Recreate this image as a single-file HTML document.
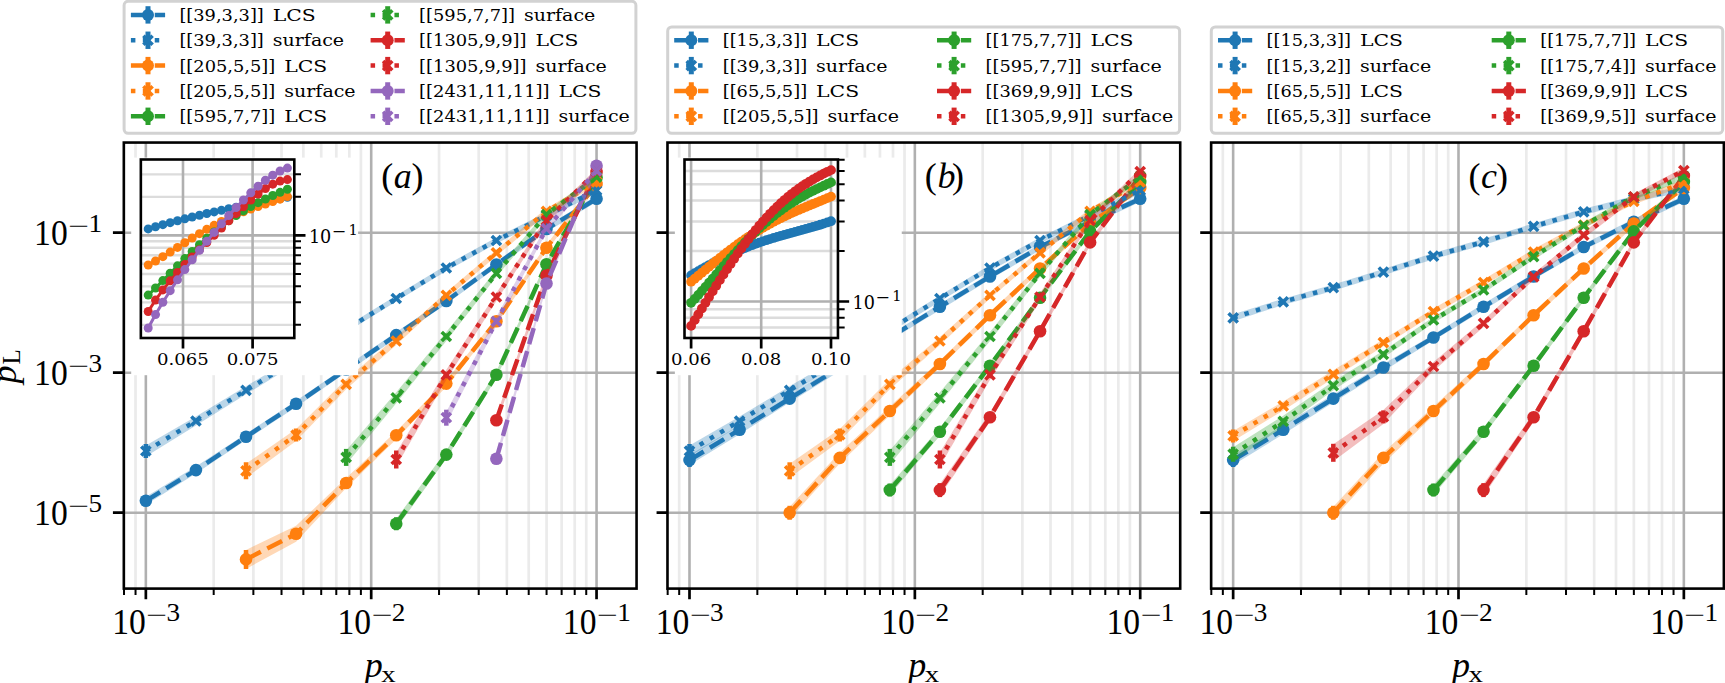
<!DOCTYPE html>
<html lang="en"><head><meta charset="utf-8"><title>Logical error rates: LCS vs surface codes</title>
<style>html,body{margin:0;padding:0;background:#fff}svg{display:block}</style></head>
<body>
<svg width="1725" height="683" viewBox="0 0 1725 683" font-family='"Liberation Serif", "DejaVu Serif", serif' fill="#000">
<defs>
<clipPath id="clip0"><rect x="123.82" y="142.55" width="512.74" height="446.05"/></clipPath>
<clipPath id="iclip0"><rect x="141" y="159.5" width="153.3" height="178.5"/></clipPath>
<clipPath id="clip1"><rect x="667.47" y="142.55" width="512.74" height="446.05"/></clipPath>
<clipPath id="iclip1"><rect x="684.65" y="159.5" width="153.3" height="178.5"/></clipPath>
<clipPath id="clip2"><rect x="1211.12" y="142.55" width="512.74" height="446.05"/></clipPath>
<clipPath id="iclip2"><rect x="1228.3" y="159.5" width="153.3" height="178.5"/></clipPath>
</defs>
<rect width="1725" height="683" fill="#fff"/>
<g clip-path="url(#clip0)">
<path d="M124.01 142.55V588.6M135.54 142.55V588.6M213.69 142.55V588.6M253.37 142.55V588.6M281.52 142.55V588.6M303.36 142.55V588.6M321.21 142.55V588.6M336.29 142.55V588.6M349.36 142.55V588.6M360.89 142.55V588.6M439.04 142.55V588.6M478.72 142.55V588.6M506.87 142.55V588.6M528.71 142.55V588.6M546.56 142.55V588.6M561.64 142.55V588.6M574.71 142.55V588.6M586.24 142.55V588.6" stroke="#ebebeb" stroke-width="2.7" fill="none"/>
<path d="M145.85 142.55V588.6M371.2 142.55V588.6M596.55 142.55V588.6M123.82 232.72H636.56M123.82 372.72H636.56M123.82 512.72H636.56" stroke="#b0b0b0" stroke-width="2.6" fill="none"/>
<polygon points="145.85,496.8 195.93,466.6 246.01,433.7 296.08,400.7 346.16,366.4 396.24,332 446.32,297.9 496.39,261.4 546.47,225.9 596.55,195.7 596.55,201.9 546.47,232.1 496.39,267.6 446.32,304.1 396.24,338.2 346.16,372.6 296.08,406.9 246.01,439.9 195.93,473.6 145.85,504.8" fill="#1f77b4" fill-opacity="0.3"/>
<polyline points="145.85,500.8 195.93,470.1 246.01,436.8 296.08,403.8 346.16,369.5 396.24,335.1 446.32,301 496.39,264.5 546.47,229 596.55,198.8" fill="none" stroke="#1f77b4" stroke-width="4.5" stroke-dasharray="16.65 7.2"/>
<circle cx="145.85" cy="500.8" r="6.3" fill="#1f77b4"/>
<circle cx="195.93" cy="470.1" r="6.3" fill="#1f77b4"/>
<circle cx="246.01" cy="436.8" r="6.3" fill="#1f77b4"/>
<circle cx="296.08" cy="403.8" r="6.3" fill="#1f77b4"/>
<circle cx="346.16" cy="369.5" r="6.3" fill="#1f77b4"/>
<circle cx="396.24" cy="335.1" r="6.3" fill="#1f77b4"/>
<circle cx="446.32" cy="301" r="6.3" fill="#1f77b4"/>
<circle cx="496.39" cy="264.5" r="6.3" fill="#1f77b4"/>
<circle cx="546.47" cy="229" r="6.3" fill="#1f77b4"/>
<circle cx="596.55" cy="198.8" r="6.3" fill="#1f77b4"/>
<polygon points="246.01,549.9 296.08,525.8 346.16,478 396.24,431.3 446.32,380.5 496.39,318.2 546.47,244.6 596.55,180.9 596.55,187.1 546.47,250.8 496.39,324.4 446.32,386.7 396.24,439.3 346.16,488 296.08,541.8 246.01,568.9" fill="#ff7f0e" fill-opacity="0.3"/>
<polyline points="246.01,559.4 296.08,533.8 346.16,483 396.24,435.3 446.32,383.6 496.39,321.3 546.47,247.7 596.55,184" fill="none" stroke="#ff7f0e" stroke-width="4.5" stroke-dasharray="16.65 7.2"/>
<line x1="246.01" y1="549.9" x2="246.01" y2="568.9" stroke="#ff7f0e" stroke-width="4.5"/>
<circle cx="246.01" cy="559.4" r="6.3" fill="#ff7f0e"/>
<circle cx="296.08" cy="533.8" r="6.3" fill="#ff7f0e"/>
<circle cx="346.16" cy="483" r="6.3" fill="#ff7f0e"/>
<circle cx="396.24" cy="435.3" r="6.3" fill="#ff7f0e"/>
<circle cx="446.32" cy="383.6" r="6.3" fill="#ff7f0e"/>
<circle cx="496.39" cy="321.3" r="6.3" fill="#ff7f0e"/>
<circle cx="546.47" cy="247.7" r="6.3" fill="#ff7f0e"/>
<circle cx="596.55" cy="184" r="6.3" fill="#ff7f0e"/>
<polygon points="396.24,518.8 446.32,450.6 496.39,371.3 546.47,261.2 596.55,174.4 596.55,180.6 546.47,267.4 496.39,378.3 446.32,458.6 396.24,528.8" fill="#2ca02c" fill-opacity="0.3"/>
<polyline points="396.24,523.8 446.32,454.6 496.39,374.8 546.47,264.3 596.55,177.5" fill="none" stroke="#2ca02c" stroke-width="4.5" stroke-dasharray="16.65 7.2"/>
<line x1="396.24" y1="517.3" x2="396.24" y2="530.3" stroke="#2ca02c" stroke-width="4.5"/>
<circle cx="396.24" cy="523.8" r="6.3" fill="#2ca02c"/>
<circle cx="446.32" cy="454.6" r="6.3" fill="#2ca02c"/>
<circle cx="496.39" cy="374.8" r="6.3" fill="#2ca02c"/>
<circle cx="546.47" cy="264.3" r="6.3" fill="#2ca02c"/>
<circle cx="596.55" cy="177.5" r="6.3" fill="#2ca02c"/>
<polygon points="496.39,415.7 546.47,272 596.55,168.9 596.55,175.1 546.47,279 496.39,424.7" fill="#d62728" fill-opacity="0.3"/>
<polyline points="496.39,420.2 546.47,275.5 596.55,172" fill="none" stroke="#d62728" stroke-width="4.5" stroke-dasharray="16.65 7.2"/>
<circle cx="496.39" cy="420.2" r="6.3" fill="#d62728"/>
<circle cx="546.47" cy="275.5" r="6.3" fill="#d62728"/>
<circle cx="596.55" cy="172" r="6.3" fill="#d62728"/>
<polygon points="496.39,454.3 546.47,280 596.55,162.7 596.55,168.9 546.47,287 496.39,463.3" fill="#9467bd" fill-opacity="0.3"/>
<polyline points="496.39,458.8 546.47,283.5 596.55,165.8" fill="none" stroke="#9467bd" stroke-width="4.5" stroke-dasharray="16.65 7.2"/>
<circle cx="496.39" cy="458.8" r="6.3" fill="#9467bd"/>
<circle cx="546.47" cy="283.5" r="6.3" fill="#9467bd"/>
<circle cx="596.55" cy="165.8" r="6.3" fill="#9467bd"/>
<polygon points="145.85,445.5 195.93,416.5 246.01,386.3 296.08,356.5 346.16,326.4 396.24,295.4 446.32,264.9 496.39,237.4 546.47,212.4 596.55,187.2 596.55,193.4 546.47,218.6 496.39,243.6 446.32,271.1 396.24,301.6 346.16,332.6 296.08,363.5 246.01,394.3 195.93,425.5 145.85,456.5" fill="#1f77b4" fill-opacity="0.3"/>
<polyline points="145.85,451 195.93,421 246.01,390.3 296.08,360 346.16,329.5 396.24,298.5 446.32,268 496.39,240.5 546.47,215.5 596.55,190.3" fill="none" stroke="#1f77b4" stroke-width="4.5" stroke-dasharray="4.5 7.42"/>
<line x1="145.85" y1="444" x2="145.85" y2="458" stroke="#1f77b4" stroke-width="4.5"/>
<path d="M141.25 446.4l9.2 9.2M141.25 455.6l9.2 -9.2 M191.33 416.4l9.2 9.2M191.33 425.6l9.2 -9.2 M241.41 385.7l9.2 9.2M241.41 394.9l9.2 -9.2 M291.48 355.4l9.2 9.2M291.48 364.6l9.2 -9.2 M341.56 324.9l9.2 9.2M341.56 334.1l9.2 -9.2 M391.64 293.9l9.2 9.2M391.64 303.1l9.2 -9.2 M441.72 263.4l9.2 9.2M441.72 272.6l9.2 -9.2 M491.79 235.9l9.2 9.2M491.79 245.1l9.2 -9.2 M541.87 210.9l9.2 9.2M541.87 220.1l9.2 -9.2 M591.95 185.7l9.2 9.2M591.95 194.9l9.2 -9.2" stroke="#1f77b4" stroke-width="3.6" fill="none"/>
<polygon points="246.01,463.8 296.08,429 346.16,379.3 396.24,337 446.32,292.2 496.39,249.7 546.47,208.2 596.55,178.9 596.55,185.1 546.47,214.4 496.39,255.9 446.32,298.4 396.24,345 346.16,389.3 296.08,441 246.01,477.8" fill="#ff7f0e" fill-opacity="0.3"/>
<polyline points="246.01,470.8 296.08,435 346.16,384.3 396.24,341 446.32,295.3 496.39,252.8 546.47,211.3 596.55,182" fill="none" stroke="#ff7f0e" stroke-width="4.5" stroke-dasharray="4.5 7.42"/>
<line x1="246.01" y1="462.3" x2="246.01" y2="479.3" stroke="#ff7f0e" stroke-width="4.5"/>
<line x1="296.08" y1="428.5" x2="296.08" y2="441.5" stroke="#ff7f0e" stroke-width="4.5"/>
<path d="M241.41 466.2l9.2 9.2M241.41 475.4l9.2 -9.2 M291.48 430.4l9.2 9.2M291.48 439.6l9.2 -9.2 M341.56 379.7l9.2 9.2M341.56 388.9l9.2 -9.2 M391.64 336.4l9.2 9.2M391.64 345.6l9.2 -9.2 M441.72 290.7l9.2 9.2M441.72 299.9l9.2 -9.2 M491.79 248.2l9.2 9.2M491.79 257.4l9.2 -9.2 M541.87 206.7l9.2 9.2M541.87 215.9l9.2 -9.2 M591.95 177.4l9.2 9.2M591.95 186.6l9.2 -9.2" stroke="#ff7f0e" stroke-width="3.6" fill="none"/>
<polygon points="346.16,450.4 396.24,392.3 446.32,332 496.39,269.8 546.47,211.5 596.55,173.9 596.55,180.1 546.47,217.7 496.39,276.8 446.32,341 396.24,403.3 346.16,464.4" fill="#2ca02c" fill-opacity="0.3"/>
<polyline points="346.16,457.4 396.24,397.8 446.32,336.5 496.39,273.3 546.47,214.6 596.55,177" fill="none" stroke="#2ca02c" stroke-width="4.5" stroke-dasharray="4.5 7.42"/>
<line x1="346.16" y1="448.9" x2="346.16" y2="465.9" stroke="#2ca02c" stroke-width="4.5"/>
<path d="M341.56 452.8l9.2 9.2M341.56 462l9.2 -9.2 M391.64 393.2l9.2 9.2M391.64 402.4l9.2 -9.2 M441.72 331.9l9.2 9.2M441.72 341.1l9.2 -9.2 M491.79 268.7l9.2 9.2M491.79 277.9l9.2 -9.2 M541.87 210l9.2 9.2M541.87 219.2l9.2 -9.2 M591.95 172.4l9.2 9.2M591.95 181.6l9.2 -9.2" stroke="#2ca02c" stroke-width="3.6" fill="none"/>
<polygon points="396.24,452.5 446.32,369.8 496.39,293 546.47,217.4 596.55,168.4 596.55,174.6 546.47,223.6 496.39,301 446.32,379.8 396.24,466.5" fill="#d62728" fill-opacity="0.3"/>
<polyline points="396.24,459.5 446.32,374.8 496.39,297 546.47,220.5 596.55,171.5" fill="none" stroke="#d62728" stroke-width="4.5" stroke-dasharray="4.5 7.42"/>
<line x1="396.24" y1="450.5" x2="396.24" y2="468.5" stroke="#d62728" stroke-width="4.5"/>
<path d="M391.64 454.9l9.2 9.2M391.64 464.1l9.2 -9.2 M441.72 370.2l9.2 9.2M441.72 379.4l9.2 -9.2 M491.79 292.4l9.2 9.2M491.79 301.6l9.2 -9.2 M541.87 215.9l9.2 9.2M541.87 225.1l9.2 -9.2 M591.95 166.9l9.2 9.2M591.95 176.1l9.2 -9.2" stroke="#d62728" stroke-width="3.6" fill="none"/>
<polygon points="446.32,411.7 496.39,316.8 546.47,225.1 596.55,167.8 596.55,174 546.47,232.1 496.39,325.8 446.32,423.7" fill="#9467bd" fill-opacity="0.3"/>
<polyline points="446.32,417.7 496.39,321.3 546.47,228.6 596.55,170.9" fill="none" stroke="#9467bd" stroke-width="4.5" stroke-dasharray="4.5 7.42"/>
<line x1="446.32" y1="409.7" x2="446.32" y2="425.7" stroke="#9467bd" stroke-width="4.5"/>
<path d="M441.72 413.1l9.2 9.2M441.72 422.3l9.2 -9.2 M491.79 316.7l9.2 9.2M491.79 325.9l9.2 -9.2 M541.87 224l9.2 9.2M541.87 233.2l9.2 -9.2 M591.95 166.3l9.2 9.2M591.95 175.5l9.2 -9.2" stroke="#9467bd" stroke-width="3.6" fill="none"/>
</g>
<path d="M124.01 588.6v6.3M135.54 588.6v6.3M213.69 588.6v6.3M253.37 588.6v6.3M281.52 588.6v6.3M303.36 588.6v6.3M321.21 588.6v6.3M336.29 588.6v6.3M349.36 588.6v6.3M360.89 588.6v6.3M439.04 588.6v6.3M478.72 588.6v6.3M506.87 588.6v6.3M528.71 588.6v6.3M546.56 588.6v6.3M561.64 588.6v6.3M574.71 588.6v6.3M586.24 588.6v6.3" stroke="#000" stroke-width="2" fill="none"/>
<path d="M145.85 588.6v10.7M371.2 588.6v10.7M596.55 588.6v10.7M123.82 232.72h-10.9M123.82 372.72h-10.9M123.82 512.72h-10.9" stroke="#000" stroke-width="2.7" fill="none"/>
<rect x="131.2" y="157.6" width="226.9" height="217.6" fill="#fff"/>
<g clip-path="url(#iclip0)">
<path d="M140.85 324.87H294.3M140.85 302.33H294.3M140.85 286.34H294.3M140.85 273.93H294.3M140.85 263.8H294.3M140.85 255.23H294.3M140.85 247.8H294.3M140.85 241.26H294.3M140.85 196.87H294.3M140.85 174.33H294.3" stroke="#dcdcdc" stroke-width="2.4" fill="none"/>
<path d="M140.85 235.4H294.3M183 159.5V338M252.6 159.5V338" stroke="#b0b0b0" stroke-width="2.6" fill="none"/>
</g>
<polyline points="148.2,228.9 155.53,226.77 162.85,224.69 170.18,222.67 177.51,220.72 184.83,218.83 192.16,217.01 199.48,215.25 206.81,213.55 214.14,211.9 221.46,210.31 228.79,208.77 236.12,207.27 243.44,205.8 250.77,204.36 258.09,202.93 265.42,201.52 272.75,200.1 280.07,198.66 287.4,197.2" fill="none" stroke="#1f77b4" stroke-width="3" stroke-linejoin="round"/>
<g fill="#1f77b4"><circle cx="148.2" cy="228.9" r="4.5"/><circle cx="155.53" cy="226.77" r="4.5"/><circle cx="162.85" cy="224.69" r="4.5"/><circle cx="170.18" cy="222.67" r="4.5"/><circle cx="177.51" cy="220.72" r="4.5"/><circle cx="184.83" cy="218.83" r="4.5"/><circle cx="192.16" cy="217.01" r="4.5"/><circle cx="199.48" cy="215.25" r="4.5"/><circle cx="206.81" cy="213.55" r="4.5"/><circle cx="214.14" cy="211.9" r="4.5"/><circle cx="221.46" cy="210.31" r="4.5"/><circle cx="228.79" cy="208.77" r="4.5"/><circle cx="236.12" cy="207.27" r="4.5"/><circle cx="243.44" cy="205.8" r="4.5"/><circle cx="250.77" cy="204.36" r="4.5"/><circle cx="258.09" cy="202.93" r="4.5"/><circle cx="265.42" cy="201.52" r="4.5"/><circle cx="272.75" cy="200.1" r="4.5"/><circle cx="280.07" cy="198.66" r="4.5"/><circle cx="287.4" cy="197.2" r="4.5"/></g>
<polyline points="148.2,265 155.53,261 162.85,256.65 170.18,252.09 177.51,247.42 184.83,242.73 192.16,238.12 199.48,233.65 206.81,229.37 214.14,225.32 221.46,221.54 228.79,218.03 236.12,214.8 243.44,211.82 250.77,209.06 258.09,206.48 265.42,204.03 272.75,201.62 280.07,199.18 287.4,196.6" fill="none" stroke="#ff7f0e" stroke-width="3" stroke-linejoin="round"/>
<g fill="#ff7f0e"><circle cx="148.2" cy="265" r="4.5"/><circle cx="155.53" cy="261" r="4.5"/><circle cx="162.85" cy="256.65" r="4.5"/><circle cx="170.18" cy="252.09" r="4.5"/><circle cx="177.51" cy="247.42" r="4.5"/><circle cx="184.83" cy="242.73" r="4.5"/><circle cx="192.16" cy="238.12" r="4.5"/><circle cx="199.48" cy="233.65" r="4.5"/><circle cx="206.81" cy="229.37" r="4.5"/><circle cx="214.14" cy="225.32" r="4.5"/><circle cx="221.46" cy="221.54" r="4.5"/><circle cx="228.79" cy="218.03" r="4.5"/><circle cx="236.12" cy="214.8" r="4.5"/><circle cx="243.44" cy="211.82" r="4.5"/><circle cx="250.77" cy="209.06" r="4.5"/><circle cx="258.09" cy="206.48" r="4.5"/><circle cx="265.42" cy="204.03" r="4.5"/><circle cx="272.75" cy="201.62" r="4.5"/><circle cx="280.07" cy="199.18" r="4.5"/><circle cx="287.4" cy="196.6" r="4.5"/></g>
<polyline points="148.2,295.1 155.53,287.95 162.85,280.62 170.18,273.23 177.51,265.86 184.83,258.6 192.16,251.52 199.48,244.69 206.81,238.16 214.14,231.96 221.46,226.13 228.79,220.68 236.12,215.62 243.44,210.94 250.77,206.62 258.09,202.65 265.42,198.98 272.75,195.55 280.07,192.32 287.4,189.2" fill="none" stroke="#2ca02c" stroke-width="3" stroke-linejoin="round"/>
<g fill="#2ca02c"><circle cx="148.2" cy="295.1" r="4.5"/><circle cx="155.53" cy="287.95" r="4.5"/><circle cx="162.85" cy="280.62" r="4.5"/><circle cx="170.18" cy="273.23" r="4.5"/><circle cx="177.51" cy="265.86" r="4.5"/><circle cx="184.83" cy="258.6" r="4.5"/><circle cx="192.16" cy="251.52" r="4.5"/><circle cx="199.48" cy="244.69" r="4.5"/><circle cx="206.81" cy="238.16" r="4.5"/><circle cx="214.14" cy="231.96" r="4.5"/><circle cx="221.46" cy="226.13" r="4.5"/><circle cx="228.79" cy="220.68" r="4.5"/><circle cx="236.12" cy="215.62" r="4.5"/><circle cx="243.44" cy="210.94" r="4.5"/><circle cx="250.77" cy="206.62" r="4.5"/><circle cx="258.09" cy="202.65" r="4.5"/><circle cx="265.42" cy="198.98" r="4.5"/><circle cx="272.75" cy="195.55" r="4.5"/><circle cx="280.07" cy="192.32" r="4.5"/><circle cx="287.4" cy="189.2" r="4.5"/></g>
<polyline points="148.2,311.5 155.53,300.06 162.85,289.93 170.18,280.81 177.51,272.43 184.83,264.57 192.16,257.04 199.48,249.7 206.81,242.45 214.14,235.22 221.46,227.99 228.79,220.78 236.12,213.65 243.44,206.71 250.77,200.08 258.09,193.97 265.42,188.58 272.75,184.18 280.07,181.07 287.4,179.6" fill="none" stroke="#d62728" stroke-width="3" stroke-linejoin="round"/>
<g fill="#d62728"><circle cx="148.2" cy="311.5" r="4.5"/><circle cx="155.53" cy="300.06" r="4.5"/><circle cx="162.85" cy="289.93" r="4.5"/><circle cx="170.18" cy="280.81" r="4.5"/><circle cx="177.51" cy="272.43" r="4.5"/><circle cx="184.83" cy="264.57" r="4.5"/><circle cx="192.16" cy="257.04" r="4.5"/><circle cx="199.48" cy="249.7" r="4.5"/><circle cx="206.81" cy="242.45" r="4.5"/><circle cx="214.14" cy="235.22" r="4.5"/><circle cx="221.46" cy="227.99" r="4.5"/><circle cx="228.79" cy="220.78" r="4.5"/><circle cx="236.12" cy="213.65" r="4.5"/><circle cx="243.44" cy="206.71" r="4.5"/><circle cx="250.77" cy="200.08" r="4.5"/><circle cx="258.09" cy="193.97" r="4.5"/><circle cx="265.42" cy="188.58" r="4.5"/><circle cx="272.75" cy="184.18" r="4.5"/><circle cx="280.07" cy="181.07" r="4.5"/><circle cx="287.4" cy="179.6" r="4.5"/></g>
<polyline points="148.2,328 155.53,314.59 162.85,302.21 170.18,290.68 177.51,279.84 184.83,269.58 192.16,259.78 199.48,250.35 206.81,241.24 214.14,232.41 221.46,223.85 228.79,215.57 236.12,207.59 243.44,199.98 250.77,192.81 258.09,186.19 265.42,180.25 272.75,175.14 280.07,171.02 287.4,168.1" fill="none" stroke="#9467bd" stroke-width="3" stroke-linejoin="round"/>
<g fill="#9467bd"><circle cx="148.2" cy="328" r="4.5"/><circle cx="155.53" cy="314.59" r="4.5"/><circle cx="162.85" cy="302.21" r="4.5"/><circle cx="170.18" cy="290.68" r="4.5"/><circle cx="177.51" cy="279.84" r="4.5"/><circle cx="184.83" cy="269.58" r="4.5"/><circle cx="192.16" cy="259.78" r="4.5"/><circle cx="199.48" cy="250.35" r="4.5"/><circle cx="206.81" cy="241.24" r="4.5"/><circle cx="214.14" cy="232.41" r="4.5"/><circle cx="221.46" cy="223.85" r="4.5"/><circle cx="228.79" cy="215.57" r="4.5"/><circle cx="236.12" cy="207.59" r="4.5"/><circle cx="243.44" cy="199.98" r="4.5"/><circle cx="250.77" cy="192.81" r="4.5"/><circle cx="258.09" cy="186.19" r="4.5"/><circle cx="265.42" cy="180.25" r="4.5"/><circle cx="272.75" cy="175.14" r="4.5"/><circle cx="280.07" cy="171.02" r="4.5"/><circle cx="287.4" cy="168.1" r="4.5"/></g>
<rect x="140.85" y="159.5" width="153.45" height="178.5" fill="none" stroke="#000" stroke-width="2.6"/>
<path d="M183 338v10.5M252.6 338v10.5M294.3 235.4h11.2" stroke="#000" stroke-width="2.7" fill="none"/>
<path d="M294.3 324.87h6.7M294.3 302.33h6.7M294.3 286.34h6.7M294.3 273.93h6.7M294.3 263.8h6.7M294.3 255.23h6.7M294.3 247.8h6.7M294.3 241.26h6.7M294.3 196.87h6.7M294.3 174.33h6.7" stroke="#000" stroke-width="2" fill="none"/>
<text x="157.1" y="365.2" font-family='"DejaVu Serif", "Liberation Serif", serif' font-size="16.5" textLength="51.8" lengthAdjust="spacingAndGlyphs">0.065</text>
<text x="226.7" y="365.2" font-family='"DejaVu Serif", "Liberation Serif", serif' font-size="16.5" textLength="51.8" lengthAdjust="spacingAndGlyphs">0.075</text>
<text x="308.9" y="243.2" font-family='"DejaVu Serif", "Liberation Serif", serif' font-size="17.6" textLength="22.4" lengthAdjust="spacingAndGlyphs">10</text>
<text x="332.1" y="236.3" font-family='"DejaVu Serif", "Liberation Serif", serif' font-size="14" textLength="14.6" lengthAdjust="spacingAndGlyphs">−</text>
<text x="348.5" y="235.2" font-family='"DejaVu Serif", "Liberation Serif", serif' font-size="14.5" textLength="9.3" lengthAdjust="spacingAndGlyphs">1</text>
<rect x="123.82" y="142.55" width="512.74" height="446.05" fill="none" stroke="#000" stroke-width="2.6"/>
<text x="112.15" y="634.2" font-size="35" textLength="33.6" lengthAdjust="spacingAndGlyphs">10</text>
<text x="146.35" y="622.9" font-size="24" textLength="21" lengthAdjust="spacingAndGlyphs">−</text>
<text x="166.45" y="621.2" font-size="24.5" textLength="13.6" lengthAdjust="spacingAndGlyphs">3</text>
<text x="337.5" y="634.2" font-size="35" textLength="33.6" lengthAdjust="spacingAndGlyphs">10</text>
<text x="371.7" y="622.9" font-size="24" textLength="21" lengthAdjust="spacingAndGlyphs">−</text>
<text x="391.8" y="621.2" font-size="24.5" textLength="13.6" lengthAdjust="spacingAndGlyphs">2</text>
<text x="562.85" y="634.2" font-size="35" textLength="33.6" lengthAdjust="spacingAndGlyphs">10</text>
<text x="597.05" y="622.9" font-size="24" textLength="21" lengthAdjust="spacingAndGlyphs">−</text>
<text x="617.15" y="621.2" font-size="24.5" textLength="13.6" lengthAdjust="spacingAndGlyphs">1</text>
<text x="34.1" y="245.32" font-size="35" textLength="33.6" lengthAdjust="spacingAndGlyphs">10</text>
<text x="68.3" y="234.02" font-size="24" textLength="21" lengthAdjust="spacingAndGlyphs">−</text>
<text x="88.4" y="232.32" font-size="24.5" textLength="13.6" lengthAdjust="spacingAndGlyphs">1</text>
<text x="34.1" y="385.32" font-size="35" textLength="33.6" lengthAdjust="spacingAndGlyphs">10</text>
<text x="68.3" y="374.02" font-size="24" textLength="21" lengthAdjust="spacingAndGlyphs">−</text>
<text x="88.4" y="372.32" font-size="24.5" textLength="13.6" lengthAdjust="spacingAndGlyphs">3</text>
<text x="34.1" y="525.32" font-size="35" textLength="33.6" lengthAdjust="spacingAndGlyphs">10</text>
<text x="68.3" y="514.02" font-size="24" textLength="21" lengthAdjust="spacingAndGlyphs">−</text>
<text x="88.4" y="512.32" font-size="24.5" textLength="13.6" lengthAdjust="spacingAndGlyphs">5</text>
<text x="364.69" y="677" font-size="36" font-style="italic">p</text>
<text x="381.19" y="681.8" font-size="24" textLength="14.4" lengthAdjust="spacingAndGlyphs">x</text>
<text x="381.2" y="187.8" font-size="36">(</text>
<text x="393.8" y="187.8" font-size="36" font-style="italic">a</text>
<text x="411.6" y="187.8" font-size="36">)</text>
<g clip-path="url(#clip1)">
<path d="M667.66 142.55V588.6M679.19 142.55V588.6M757.34 142.55V588.6M797.02 142.55V588.6M825.17 142.55V588.6M847.01 142.55V588.6M864.86 142.55V588.6M879.94 142.55V588.6M893.01 142.55V588.6M904.54 142.55V588.6M982.69 142.55V588.6M1022.37 142.55V588.6M1050.52 142.55V588.6M1072.36 142.55V588.6M1090.21 142.55V588.6M1105.29 142.55V588.6M1118.36 142.55V588.6M1129.89 142.55V588.6" stroke="#ebebeb" stroke-width="2.7" fill="none"/>
<path d="M689.5 142.55V588.6M914.85 142.55V588.6M1140.2 142.55V588.6M667.47 232.72H1180.21M667.47 372.72H1180.21M667.47 512.72H1180.21" stroke="#b0b0b0" stroke-width="2.6" fill="none"/>
<polygon points="689.5,455.1 739.58,425.2 789.66,394.6 839.73,364 889.81,334.4 939.89,303.7 989.97,273.4 1040.04,243.9 1090.12,218.7 1140.2,195.7 1140.2,201.9 1090.12,224.9 1040.04,250.1 989.97,279.6 939.89,309.9 889.81,340.6 839.73,371 789.66,402.6 739.58,434.2 689.5,465.1" fill="#1f77b4" fill-opacity="0.3"/>
<polyline points="689.5,460.1 739.58,429.7 789.66,398.6 839.73,367.5 889.81,337.5 939.89,306.8 989.97,276.5 1040.04,247 1090.12,221.8 1140.2,198.8" fill="none" stroke="#1f77b4" stroke-width="4.5" stroke-dasharray="16.65 7.2"/>
<line x1="689.5" y1="453.1" x2="689.5" y2="467.1" stroke="#1f77b4" stroke-width="4.5"/>
<circle cx="689.5" cy="460.1" r="6.3" fill="#1f77b4"/>
<circle cx="739.58" cy="429.7" r="6.3" fill="#1f77b4"/>
<circle cx="789.66" cy="398.6" r="6.3" fill="#1f77b4"/>
<circle cx="839.73" cy="367.5" r="6.3" fill="#1f77b4"/>
<circle cx="889.81" cy="337.5" r="6.3" fill="#1f77b4"/>
<circle cx="939.89" cy="306.8" r="6.3" fill="#1f77b4"/>
<circle cx="989.97" cy="276.5" r="6.3" fill="#1f77b4"/>
<circle cx="1040.04" cy="247" r="6.3" fill="#1f77b4"/>
<circle cx="1090.12" cy="221.8" r="6.3" fill="#1f77b4"/>
<circle cx="1140.2" cy="198.8" r="6.3" fill="#1f77b4"/>
<polygon points="789.66,506.8 839.73,452.4 889.81,406.5 939.89,360.5 989.97,312.1 1040.04,265.4 1090.12,220.4 1140.2,184.9 1140.2,191.1 1090.12,226.6 1040.04,271.6 989.97,318.3 939.89,367.5 889.81,415.5 839.73,463.4 789.66,518.8" fill="#ff7f0e" fill-opacity="0.3"/>
<polyline points="789.66,512.8 839.73,457.9 889.81,411 939.89,364 989.97,315.2 1040.04,268.5 1090.12,223.5 1140.2,188" fill="none" stroke="#ff7f0e" stroke-width="4.5" stroke-dasharray="16.65 7.2"/>
<line x1="789.66" y1="505.8" x2="789.66" y2="519.8" stroke="#ff7f0e" stroke-width="4.5"/>
<circle cx="789.66" cy="512.8" r="6.3" fill="#ff7f0e"/>
<circle cx="839.73" cy="457.9" r="6.3" fill="#ff7f0e"/>
<circle cx="889.81" cy="411" r="6.3" fill="#ff7f0e"/>
<circle cx="939.89" cy="364" r="6.3" fill="#ff7f0e"/>
<circle cx="989.97" cy="315.2" r="6.3" fill="#ff7f0e"/>
<circle cx="1040.04" cy="268.5" r="6.3" fill="#ff7f0e"/>
<circle cx="1090.12" cy="223.5" r="6.3" fill="#ff7f0e"/>
<circle cx="1140.2" cy="188" r="6.3" fill="#ff7f0e"/>
<polygon points="889.81,485 939.89,427.8 989.97,362.2 1040.04,294.7 1090.12,228.3 1140.2,178.9 1140.2,185.1 1090.12,234.5 1040.04,300.9 989.97,369.2 939.89,435.8 889.81,495" fill="#2ca02c" fill-opacity="0.3"/>
<polyline points="889.81,490 939.89,431.8 989.97,365.7 1040.04,297.8 1090.12,231.4 1140.2,182" fill="none" stroke="#2ca02c" stroke-width="4.5" stroke-dasharray="16.65 7.2"/>
<line x1="889.81" y1="483.5" x2="889.81" y2="496.5" stroke="#2ca02c" stroke-width="4.5"/>
<circle cx="889.81" cy="490" r="6.3" fill="#2ca02c"/>
<circle cx="939.89" cy="431.8" r="6.3" fill="#2ca02c"/>
<circle cx="989.97" cy="365.7" r="6.3" fill="#2ca02c"/>
<circle cx="1040.04" cy="297.8" r="6.3" fill="#2ca02c"/>
<circle cx="1090.12" cy="231.4" r="6.3" fill="#2ca02c"/>
<circle cx="1140.2" cy="182" r="6.3" fill="#2ca02c"/>
<polygon points="939.89,484.1 989.97,412.8 1040.04,327.7 1090.12,239.3 1140.2,172.9 1140.2,179.1 1090.12,245.5 1040.04,334.7 989.97,421.8 939.89,496.1" fill="#d62728" fill-opacity="0.3"/>
<polyline points="939.89,490.1 989.97,417.3 1040.04,331.2 1090.12,242.4 1140.2,176" fill="none" stroke="#d62728" stroke-width="4.5" stroke-dasharray="16.65 7.2"/>
<line x1="939.89" y1="483.1" x2="939.89" y2="497.1" stroke="#d62728" stroke-width="4.5"/>
<circle cx="939.89" cy="490.1" r="6.3" fill="#d62728"/>
<circle cx="989.97" cy="417.3" r="6.3" fill="#d62728"/>
<circle cx="1040.04" cy="331.2" r="6.3" fill="#d62728"/>
<circle cx="1090.12" cy="242.4" r="6.3" fill="#d62728"/>
<circle cx="1140.2" cy="176" r="6.3" fill="#d62728"/>
<polygon points="689.5,445.5 739.58,416.5 789.66,386.3 839.73,356.5 889.81,326.4 939.89,295.4 989.97,264.9 1040.04,237.4 1090.12,212.4 1140.2,187.2 1140.2,193.4 1090.12,218.6 1040.04,243.6 989.97,271.1 939.89,301.6 889.81,332.6 839.73,363.5 789.66,394.3 739.58,425.5 689.5,456.5" fill="#1f77b4" fill-opacity="0.3"/>
<polyline points="689.5,451 739.58,421 789.66,390.3 839.73,360 889.81,329.5 939.89,298.5 989.97,268 1040.04,240.5 1090.12,215.5 1140.2,190.3" fill="none" stroke="#1f77b4" stroke-width="4.5" stroke-dasharray="4.5 7.42"/>
<line x1="689.5" y1="444" x2="689.5" y2="458" stroke="#1f77b4" stroke-width="4.5"/>
<path d="M684.9 446.4l9.2 9.2M684.9 455.6l9.2 -9.2 M734.98 416.4l9.2 9.2M734.98 425.6l9.2 -9.2 M785.06 385.7l9.2 9.2M785.06 394.9l9.2 -9.2 M835.13 355.4l9.2 9.2M835.13 364.6l9.2 -9.2 M885.21 324.9l9.2 9.2M885.21 334.1l9.2 -9.2 M935.29 293.9l9.2 9.2M935.29 303.1l9.2 -9.2 M985.37 263.4l9.2 9.2M985.37 272.6l9.2 -9.2 M1035.44 235.9l9.2 9.2M1035.44 245.1l9.2 -9.2 M1085.52 210.9l9.2 9.2M1085.52 220.1l9.2 -9.2 M1135.6 185.7l9.2 9.2M1135.6 194.9l9.2 -9.2" stroke="#1f77b4" stroke-width="3.6" fill="none"/>
<polygon points="789.66,463.8 839.73,429 889.81,379.3 939.89,337 989.97,292.2 1040.04,249.7 1090.12,208.2 1140.2,178.9 1140.2,185.1 1090.12,214.4 1040.04,255.9 989.97,298.4 939.89,345 889.81,389.3 839.73,441 789.66,477.8" fill="#ff7f0e" fill-opacity="0.3"/>
<polyline points="789.66,470.8 839.73,435 889.81,384.3 939.89,341 989.97,295.3 1040.04,252.8 1090.12,211.3 1140.2,182" fill="none" stroke="#ff7f0e" stroke-width="4.5" stroke-dasharray="4.5 7.42"/>
<line x1="789.66" y1="462.3" x2="789.66" y2="479.3" stroke="#ff7f0e" stroke-width="4.5"/>
<line x1="839.73" y1="428.5" x2="839.73" y2="441.5" stroke="#ff7f0e" stroke-width="4.5"/>
<path d="M785.06 466.2l9.2 9.2M785.06 475.4l9.2 -9.2 M835.13 430.4l9.2 9.2M835.13 439.6l9.2 -9.2 M885.21 379.7l9.2 9.2M885.21 388.9l9.2 -9.2 M935.29 336.4l9.2 9.2M935.29 345.6l9.2 -9.2 M985.37 290.7l9.2 9.2M985.37 299.9l9.2 -9.2 M1035.44 248.2l9.2 9.2M1035.44 257.4l9.2 -9.2 M1085.52 206.7l9.2 9.2M1085.52 215.9l9.2 -9.2 M1135.6 177.4l9.2 9.2M1135.6 186.6l9.2 -9.2" stroke="#ff7f0e" stroke-width="3.6" fill="none"/>
<polygon points="889.81,450.4 939.89,392.3 989.97,332 1040.04,269.8 1090.12,211.5 1140.2,173.9 1140.2,180.1 1090.12,217.7 1040.04,276.8 989.97,341 939.89,403.3 889.81,464.4" fill="#2ca02c" fill-opacity="0.3"/>
<polyline points="889.81,457.4 939.89,397.8 989.97,336.5 1040.04,273.3 1090.12,214.6 1140.2,177" fill="none" stroke="#2ca02c" stroke-width="4.5" stroke-dasharray="4.5 7.42"/>
<line x1="889.81" y1="448.9" x2="889.81" y2="465.9" stroke="#2ca02c" stroke-width="4.5"/>
<path d="M885.21 452.8l9.2 9.2M885.21 462l9.2 -9.2 M935.29 393.2l9.2 9.2M935.29 402.4l9.2 -9.2 M985.37 331.9l9.2 9.2M985.37 341.1l9.2 -9.2 M1035.44 268.7l9.2 9.2M1035.44 277.9l9.2 -9.2 M1085.52 210l9.2 9.2M1085.52 219.2l9.2 -9.2 M1135.6 172.4l9.2 9.2M1135.6 181.6l9.2 -9.2" stroke="#2ca02c" stroke-width="3.6" fill="none"/>
<polygon points="939.89,452.5 989.97,369.8 1040.04,293 1090.12,217.4 1140.2,168.4 1140.2,174.6 1090.12,223.6 1040.04,301 989.97,379.8 939.89,466.5" fill="#d62728" fill-opacity="0.3"/>
<polyline points="939.89,459.5 989.97,374.8 1040.04,297 1090.12,220.5 1140.2,171.5" fill="none" stroke="#d62728" stroke-width="4.5" stroke-dasharray="4.5 7.42"/>
<line x1="939.89" y1="450.5" x2="939.89" y2="468.5" stroke="#d62728" stroke-width="4.5"/>
<path d="M935.29 454.9l9.2 9.2M935.29 464.1l9.2 -9.2 M985.37 370.2l9.2 9.2M985.37 379.4l9.2 -9.2 M1035.44 292.4l9.2 9.2M1035.44 301.6l9.2 -9.2 M1085.52 215.9l9.2 9.2M1085.52 225.1l9.2 -9.2 M1135.6 166.9l9.2 9.2M1135.6 176.1l9.2 -9.2" stroke="#d62728" stroke-width="3.6" fill="none"/>
</g>
<path d="M667.66 588.6v6.3M679.19 588.6v6.3M757.34 588.6v6.3M797.02 588.6v6.3M825.17 588.6v6.3M847.01 588.6v6.3M864.86 588.6v6.3M879.94 588.6v6.3M893.01 588.6v6.3M904.54 588.6v6.3M982.69 588.6v6.3M1022.37 588.6v6.3M1050.52 588.6v6.3M1072.36 588.6v6.3M1090.21 588.6v6.3M1105.29 588.6v6.3M1118.36 588.6v6.3M1129.89 588.6v6.3" stroke="#000" stroke-width="2" fill="none"/>
<path d="M689.5 588.6v10.7M914.85 588.6v10.7M1140.2 588.6v10.7M667.47 232.72h-10.9M667.47 372.72h-10.9M667.47 512.72h-10.9" stroke="#000" stroke-width="2.7" fill="none"/>
<rect x="674.85" y="157.6" width="226.9" height="217.6" fill="#fff"/>
<g clip-path="url(#iclip1)">
<path d="M684.5 327.49H837.95M684.5 317.76H837.95M684.5 309.18H837.95M684.5 250.99H837.95M684.5 221.44H837.95M684.5 200.47H837.95M684.5 184.21H837.95M684.5 170.93H837.95M684.5 159.69H837.95" stroke="#dcdcdc" stroke-width="2.4" fill="none"/>
<path d="M684.5 301.5H837.95M691.1 159.5V338M761.2 159.5V338M831 159.5V338" stroke="#b0b0b0" stroke-width="2.6" fill="none"/>
</g>
<polyline points="691.1,275.4 694.69,273.26 698.27,271.15 701.86,269.08 705.45,267.05 709.04,265.07 712.62,263.13 716.21,261.24 719.8,259.4 723.38,257.61 726.97,255.87 730.56,254.19 734.15,252.56 737.73,250.98 741.32,249.46 744.91,247.99 748.49,246.57 752.08,245.21 755.67,243.89 759.26,242.62 762.84,241.39 766.43,240.21 770.02,239.07 773.61,237.96 777.19,236.88 780.78,235.83 784.37,234.81 787.95,233.81 791.54,232.82 795.13,231.84 798.72,230.87 802.3,229.89 805.89,228.91 809.48,227.91 813.06,226.89 816.65,225.84 820.24,224.76 823.83,223.63 827.41,222.44 831,221.2" fill="none" stroke="#1f77b4" stroke-width="3" stroke-linejoin="round"/>
<g fill="#1f77b4"><circle cx="691.1" cy="275.4" r="4.9"/><circle cx="694.69" cy="273.26" r="4.9"/><circle cx="698.27" cy="271.15" r="4.9"/><circle cx="701.86" cy="269.08" r="4.9"/><circle cx="705.45" cy="267.05" r="4.9"/><circle cx="709.04" cy="265.07" r="4.9"/><circle cx="712.62" cy="263.13" r="4.9"/><circle cx="716.21" cy="261.24" r="4.9"/><circle cx="719.8" cy="259.4" r="4.9"/><circle cx="723.38" cy="257.61" r="4.9"/><circle cx="726.97" cy="255.87" r="4.9"/><circle cx="730.56" cy="254.19" r="4.9"/><circle cx="734.15" cy="252.56" r="4.9"/><circle cx="737.73" cy="250.98" r="4.9"/><circle cx="741.32" cy="249.46" r="4.9"/><circle cx="744.91" cy="247.99" r="4.9"/><circle cx="748.49" cy="246.57" r="4.9"/><circle cx="752.08" cy="245.21" r="4.9"/><circle cx="755.67" cy="243.89" r="4.9"/><circle cx="759.26" cy="242.62" r="4.9"/><circle cx="762.84" cy="241.39" r="4.9"/><circle cx="766.43" cy="240.21" r="4.9"/><circle cx="770.02" cy="239.07" r="4.9"/><circle cx="773.61" cy="237.96" r="4.9"/><circle cx="777.19" cy="236.88" r="4.9"/><circle cx="780.78" cy="235.83" r="4.9"/><circle cx="784.37" cy="234.81" r="4.9"/><circle cx="787.95" cy="233.81" r="4.9"/><circle cx="791.54" cy="232.82" r="4.9"/><circle cx="795.13" cy="231.84" r="4.9"/><circle cx="798.72" cy="230.87" r="4.9"/><circle cx="802.3" cy="229.89" r="4.9"/><circle cx="805.89" cy="228.91" r="4.9"/><circle cx="809.48" cy="227.91" r="4.9"/><circle cx="813.06" cy="226.89" r="4.9"/><circle cx="816.65" cy="225.84" r="4.9"/><circle cx="820.24" cy="224.76" r="4.9"/><circle cx="823.83" cy="223.63" r="4.9"/><circle cx="827.41" cy="222.44" r="4.9"/><circle cx="831" cy="221.2" r="4.9"/></g>
<polyline points="691.1,281.7 694.69,278.69 698.27,275.68 701.86,272.67 705.45,269.67 709.04,266.69 712.62,263.74 716.21,260.82 719.8,257.94 723.38,255.1 726.97,252.31 730.56,249.57 734.15,246.89 737.73,244.27 741.32,241.72 744.91,239.23 748.49,236.81 752.08,234.46 755.67,232.19 759.26,229.98 762.84,227.84 766.43,225.77 770.02,223.77 773.61,221.84 777.19,219.97 780.78,218.17 784.37,216.42 787.95,214.73 791.54,213.09 795.13,211.49 798.72,209.94 802.3,208.42 805.89,206.92 809.48,205.45 813.06,203.99 816.65,202.54 820.24,201.08 823.83,199.61 827.41,198.12 831,196.6" fill="none" stroke="#ff7f0e" stroke-width="3" stroke-linejoin="round"/>
<g fill="#ff7f0e"><circle cx="691.1" cy="281.7" r="4.9"/><circle cx="694.69" cy="278.69" r="4.9"/><circle cx="698.27" cy="275.68" r="4.9"/><circle cx="701.86" cy="272.67" r="4.9"/><circle cx="705.45" cy="269.67" r="4.9"/><circle cx="709.04" cy="266.69" r="4.9"/><circle cx="712.62" cy="263.74" r="4.9"/><circle cx="716.21" cy="260.82" r="4.9"/><circle cx="719.8" cy="257.94" r="4.9"/><circle cx="723.38" cy="255.1" r="4.9"/><circle cx="726.97" cy="252.31" r="4.9"/><circle cx="730.56" cy="249.57" r="4.9"/><circle cx="734.15" cy="246.89" r="4.9"/><circle cx="737.73" cy="244.27" r="4.9"/><circle cx="741.32" cy="241.72" r="4.9"/><circle cx="744.91" cy="239.23" r="4.9"/><circle cx="748.49" cy="236.81" r="4.9"/><circle cx="752.08" cy="234.46" r="4.9"/><circle cx="755.67" cy="232.19" r="4.9"/><circle cx="759.26" cy="229.98" r="4.9"/><circle cx="762.84" cy="227.84" r="4.9"/><circle cx="766.43" cy="225.77" r="4.9"/><circle cx="770.02" cy="223.77" r="4.9"/><circle cx="773.61" cy="221.84" r="4.9"/><circle cx="777.19" cy="219.97" r="4.9"/><circle cx="780.78" cy="218.17" r="4.9"/><circle cx="784.37" cy="216.42" r="4.9"/><circle cx="787.95" cy="214.73" r="4.9"/><circle cx="791.54" cy="213.09" r="4.9"/><circle cx="795.13" cy="211.49" r="4.9"/><circle cx="798.72" cy="209.94" r="4.9"/><circle cx="802.3" cy="208.42" r="4.9"/><circle cx="805.89" cy="206.92" r="4.9"/><circle cx="809.48" cy="205.45" r="4.9"/><circle cx="813.06" cy="203.99" r="4.9"/><circle cx="816.65" cy="202.54" r="4.9"/><circle cx="820.24" cy="201.08" r="4.9"/><circle cx="823.83" cy="199.61" r="4.9"/><circle cx="827.41" cy="198.12" r="4.9"/><circle cx="831" cy="196.6" r="4.9"/></g>
<polyline points="691.1,302.8 694.69,298.93 698.27,294.98 701.86,290.95 705.45,286.86 709.04,282.74 712.62,278.59 716.21,274.44 719.8,270.3 723.38,266.17 726.97,262.08 730.56,258.03 734.15,254.04 737.73,250.11 741.32,246.26 744.91,242.49 748.49,238.8 752.08,235.22 755.67,231.73 759.26,228.35 762.84,225.08 766.43,221.92 770.02,218.87 773.61,215.94 777.19,213.13 780.78,210.43 784.37,207.85 787.95,205.37 791.54,203.01 795.13,200.75 798.72,198.59 802.3,196.52 805.89,194.54 809.48,192.64 813.06,190.82 816.65,189.05 820.24,187.34 823.83,185.67 827.41,184.02 831,182.4" fill="none" stroke="#2ca02c" stroke-width="3" stroke-linejoin="round"/>
<g fill="#2ca02c"><circle cx="691.1" cy="302.8" r="4.9"/><circle cx="694.69" cy="298.93" r="4.9"/><circle cx="698.27" cy="294.98" r="4.9"/><circle cx="701.86" cy="290.95" r="4.9"/><circle cx="705.45" cy="286.86" r="4.9"/><circle cx="709.04" cy="282.74" r="4.9"/><circle cx="712.62" cy="278.59" r="4.9"/><circle cx="716.21" cy="274.44" r="4.9"/><circle cx="719.8" cy="270.3" r="4.9"/><circle cx="723.38" cy="266.17" r="4.9"/><circle cx="726.97" cy="262.08" r="4.9"/><circle cx="730.56" cy="258.03" r="4.9"/><circle cx="734.15" cy="254.04" r="4.9"/><circle cx="737.73" cy="250.11" r="4.9"/><circle cx="741.32" cy="246.26" r="4.9"/><circle cx="744.91" cy="242.49" r="4.9"/><circle cx="748.49" cy="238.8" r="4.9"/><circle cx="752.08" cy="235.22" r="4.9"/><circle cx="755.67" cy="231.73" r="4.9"/><circle cx="759.26" cy="228.35" r="4.9"/><circle cx="762.84" cy="225.08" r="4.9"/><circle cx="766.43" cy="221.92" r="4.9"/><circle cx="770.02" cy="218.87" r="4.9"/><circle cx="773.61" cy="215.94" r="4.9"/><circle cx="777.19" cy="213.13" r="4.9"/><circle cx="780.78" cy="210.43" r="4.9"/><circle cx="784.37" cy="207.85" r="4.9"/><circle cx="787.95" cy="205.37" r="4.9"/><circle cx="791.54" cy="203.01" r="4.9"/><circle cx="795.13" cy="200.75" r="4.9"/><circle cx="798.72" cy="198.59" r="4.9"/><circle cx="802.3" cy="196.52" r="4.9"/><circle cx="805.89" cy="194.54" r="4.9"/><circle cx="809.48" cy="192.64" r="4.9"/><circle cx="813.06" cy="190.82" r="4.9"/><circle cx="816.65" cy="189.05" r="4.9"/><circle cx="820.24" cy="187.34" r="4.9"/><circle cx="823.83" cy="185.67" r="4.9"/><circle cx="827.41" cy="184.02" r="4.9"/><circle cx="831" cy="182.4" r="4.9"/></g>
<polyline points="691.1,325.88 694.69,320.13 698.27,314.35 701.86,308.58 705.45,302.81 709.04,297.08 712.62,291.38 716.21,285.73 719.8,280.16 723.38,274.65 726.97,269.24 730.56,263.92 734.15,258.71 737.73,253.61 741.32,248.63 744.91,243.78 748.49,239.06 752.08,234.48 755.67,230.05 759.26,225.76 762.84,221.63 766.43,217.64 770.02,213.81 773.61,210.14 777.19,206.62 780.78,203.25 784.37,200.04 787.95,196.98 791.54,194.06 795.13,191.29 798.72,188.66 802.3,186.16 805.89,183.79 809.48,181.53 813.06,179.4 816.65,177.36 820.24,175.43 823.83,173.58 827.41,171.8 831,170.09" fill="none" stroke="#d62728" stroke-width="3" stroke-linejoin="round"/>
<g fill="#d62728"><circle cx="691.1" cy="325.88" r="4.9"/><circle cx="694.69" cy="320.13" r="4.9"/><circle cx="698.27" cy="314.35" r="4.9"/><circle cx="701.86" cy="308.58" r="4.9"/><circle cx="705.45" cy="302.81" r="4.9"/><circle cx="709.04" cy="297.08" r="4.9"/><circle cx="712.62" cy="291.38" r="4.9"/><circle cx="716.21" cy="285.73" r="4.9"/><circle cx="719.8" cy="280.16" r="4.9"/><circle cx="723.38" cy="274.65" r="4.9"/><circle cx="726.97" cy="269.24" r="4.9"/><circle cx="730.56" cy="263.92" r="4.9"/><circle cx="734.15" cy="258.71" r="4.9"/><circle cx="737.73" cy="253.61" r="4.9"/><circle cx="741.32" cy="248.63" r="4.9"/><circle cx="744.91" cy="243.78" r="4.9"/><circle cx="748.49" cy="239.06" r="4.9"/><circle cx="752.08" cy="234.48" r="4.9"/><circle cx="755.67" cy="230.05" r="4.9"/><circle cx="759.26" cy="225.76" r="4.9"/><circle cx="762.84" cy="221.63" r="4.9"/><circle cx="766.43" cy="217.64" r="4.9"/><circle cx="770.02" cy="213.81" r="4.9"/><circle cx="773.61" cy="210.14" r="4.9"/><circle cx="777.19" cy="206.62" r="4.9"/><circle cx="780.78" cy="203.25" r="4.9"/><circle cx="784.37" cy="200.04" r="4.9"/><circle cx="787.95" cy="196.98" r="4.9"/><circle cx="791.54" cy="194.06" r="4.9"/><circle cx="795.13" cy="191.29" r="4.9"/><circle cx="798.72" cy="188.66" r="4.9"/><circle cx="802.3" cy="186.16" r="4.9"/><circle cx="805.89" cy="183.79" r="4.9"/><circle cx="809.48" cy="181.53" r="4.9"/><circle cx="813.06" cy="179.4" r="4.9"/><circle cx="816.65" cy="177.36" r="4.9"/><circle cx="820.24" cy="175.43" r="4.9"/><circle cx="823.83" cy="173.58" r="4.9"/><circle cx="827.41" cy="171.8" r="4.9"/><circle cx="831" cy="170.09" r="4.9"/></g>
<rect x="684.5" y="159.5" width="153.45" height="178.5" fill="none" stroke="#000" stroke-width="2.6"/>
<path d="M691.1 338v10.5M761.2 338v10.5M831 338v10.5M837.95 301.5h11.2" stroke="#000" stroke-width="2.7" fill="none"/>
<path d="M837.95 327.49h6.7M837.95 317.76h6.7M837.95 309.18h6.7M837.95 250.99h6.7M837.95 221.44h6.7M837.95 200.47h6.7M837.95 184.21h6.7M837.95 170.93h6.7M837.95 159.69h6.7" stroke="#000" stroke-width="2" fill="none"/>
<text x="671" y="365.2" font-family='"DejaVu Serif", "Liberation Serif", serif' font-size="16.5" textLength="40.2" lengthAdjust="spacingAndGlyphs">0.06</text>
<text x="741.1" y="365.2" font-family='"DejaVu Serif", "Liberation Serif", serif' font-size="16.5" textLength="40.2" lengthAdjust="spacingAndGlyphs">0.08</text>
<text x="810.9" y="365.2" font-family='"DejaVu Serif", "Liberation Serif", serif' font-size="16.5" textLength="40.2" lengthAdjust="spacingAndGlyphs">0.10</text>
<text x="852.55" y="309.3" font-family='"DejaVu Serif", "Liberation Serif", serif' font-size="17.6" textLength="22.4" lengthAdjust="spacingAndGlyphs">10</text>
<text x="875.75" y="302.4" font-family='"DejaVu Serif", "Liberation Serif", serif' font-size="14" textLength="14.6" lengthAdjust="spacingAndGlyphs">−</text>
<text x="892.15" y="301.3" font-family='"DejaVu Serif", "Liberation Serif", serif' font-size="14.5" textLength="9.3" lengthAdjust="spacingAndGlyphs">1</text>
<rect x="667.47" y="142.55" width="512.74" height="446.05" fill="none" stroke="#000" stroke-width="2.6"/>
<text x="655.8" y="634.2" font-size="35" textLength="33.6" lengthAdjust="spacingAndGlyphs">10</text>
<text x="690" y="622.9" font-size="24" textLength="21" lengthAdjust="spacingAndGlyphs">−</text>
<text x="710.1" y="621.2" font-size="24.5" textLength="13.6" lengthAdjust="spacingAndGlyphs">3</text>
<text x="881.15" y="634.2" font-size="35" textLength="33.6" lengthAdjust="spacingAndGlyphs">10</text>
<text x="915.35" y="622.9" font-size="24" textLength="21" lengthAdjust="spacingAndGlyphs">−</text>
<text x="935.45" y="621.2" font-size="24.5" textLength="13.6" lengthAdjust="spacingAndGlyphs">2</text>
<text x="1106.5" y="634.2" font-size="35" textLength="33.6" lengthAdjust="spacingAndGlyphs">10</text>
<text x="1140.7" y="622.9" font-size="24" textLength="21" lengthAdjust="spacingAndGlyphs">−</text>
<text x="1160.8" y="621.2" font-size="24.5" textLength="13.6" lengthAdjust="spacingAndGlyphs">1</text>
<text x="908.34" y="677" font-size="36" font-style="italic">p</text>
<text x="924.84" y="681.8" font-size="24" textLength="14.4" lengthAdjust="spacingAndGlyphs">x</text>
<text x="924.85" y="187.8" font-size="36">(</text>
<text x="937.45" y="187.8" font-size="36" font-style="italic">b</text>
<text x="952.05" y="187.8" font-size="36">)</text>
<g clip-path="url(#clip2)">
<path d="M1211.31 142.55V588.6M1222.84 142.55V588.6M1300.99 142.55V588.6M1340.67 142.55V588.6M1368.82 142.55V588.6M1390.66 142.55V588.6M1408.51 142.55V588.6M1423.59 142.55V588.6M1436.66 142.55V588.6M1448.19 142.55V588.6M1526.34 142.55V588.6M1566.02 142.55V588.6M1594.17 142.55V588.6M1616.01 142.55V588.6M1633.86 142.55V588.6M1648.94 142.55V588.6M1662.01 142.55V588.6M1673.54 142.55V588.6" stroke="#ebebeb" stroke-width="2.7" fill="none"/>
<path d="M1233.15 142.55V588.6M1458.5 142.55V588.6M1683.85 142.55V588.6M1211.12 232.72H1723.86M1211.12 372.72H1723.86M1211.12 512.72H1723.86" stroke="#b0b0b0" stroke-width="2.6" fill="none"/>
<polygon points="1233.15,455.1 1283.23,425.2 1333.31,394.6 1383.38,364 1433.46,334.4 1483.54,303.7 1533.62,273.4 1583.69,243.9 1633.77,218.7 1683.85,195.7 1683.85,201.9 1633.77,224.9 1583.69,250.1 1533.62,279.6 1483.54,309.9 1433.46,340.6 1383.38,371 1333.31,402.6 1283.23,434.2 1233.15,465.1" fill="#1f77b4" fill-opacity="0.3"/>
<polyline points="1233.15,460.1 1283.23,429.7 1333.31,398.6 1383.38,367.5 1433.46,337.5 1483.54,306.8 1533.62,276.5 1583.69,247 1633.77,221.8 1683.85,198.8" fill="none" stroke="#1f77b4" stroke-width="4.5" stroke-dasharray="16.65 7.2"/>
<line x1="1233.15" y1="453.1" x2="1233.15" y2="467.1" stroke="#1f77b4" stroke-width="4.5"/>
<circle cx="1233.15" cy="460.1" r="6.3" fill="#1f77b4"/>
<circle cx="1283.23" cy="429.7" r="6.3" fill="#1f77b4"/>
<circle cx="1333.31" cy="398.6" r="6.3" fill="#1f77b4"/>
<circle cx="1383.38" cy="367.5" r="6.3" fill="#1f77b4"/>
<circle cx="1433.46" cy="337.5" r="6.3" fill="#1f77b4"/>
<circle cx="1483.54" cy="306.8" r="6.3" fill="#1f77b4"/>
<circle cx="1533.62" cy="276.5" r="6.3" fill="#1f77b4"/>
<circle cx="1583.69" cy="247" r="6.3" fill="#1f77b4"/>
<circle cx="1633.77" cy="221.8" r="6.3" fill="#1f77b4"/>
<circle cx="1683.85" cy="198.8" r="6.3" fill="#1f77b4"/>
<polygon points="1333.31,506.8 1383.38,452.4 1433.46,406.5 1483.54,360.5 1533.62,312.1 1583.69,265.4 1633.77,220.4 1683.85,184.9 1683.85,191.1 1633.77,226.6 1583.69,271.6 1533.62,318.3 1483.54,367.5 1433.46,415.5 1383.38,463.4 1333.31,518.8" fill="#ff7f0e" fill-opacity="0.3"/>
<polyline points="1333.31,512.8 1383.38,457.9 1433.46,411 1483.54,364 1533.62,315.2 1583.69,268.5 1633.77,223.5 1683.85,188" fill="none" stroke="#ff7f0e" stroke-width="4.5" stroke-dasharray="16.65 7.2"/>
<line x1="1333.31" y1="505.8" x2="1333.31" y2="519.8" stroke="#ff7f0e" stroke-width="4.5"/>
<circle cx="1333.31" cy="512.8" r="6.3" fill="#ff7f0e"/>
<circle cx="1383.38" cy="457.9" r="6.3" fill="#ff7f0e"/>
<circle cx="1433.46" cy="411" r="6.3" fill="#ff7f0e"/>
<circle cx="1483.54" cy="364" r="6.3" fill="#ff7f0e"/>
<circle cx="1533.62" cy="315.2" r="6.3" fill="#ff7f0e"/>
<circle cx="1583.69" cy="268.5" r="6.3" fill="#ff7f0e"/>
<circle cx="1633.77" cy="223.5" r="6.3" fill="#ff7f0e"/>
<circle cx="1683.85" cy="188" r="6.3" fill="#ff7f0e"/>
<polygon points="1433.46,485 1483.54,427.8 1533.62,362.2 1583.69,294.7 1633.77,228.3 1683.85,178.9 1683.85,185.1 1633.77,234.5 1583.69,300.9 1533.62,369.2 1483.54,435.8 1433.46,495" fill="#2ca02c" fill-opacity="0.3"/>
<polyline points="1433.46,490 1483.54,431.8 1533.62,365.7 1583.69,297.8 1633.77,231.4 1683.85,182" fill="none" stroke="#2ca02c" stroke-width="4.5" stroke-dasharray="16.65 7.2"/>
<line x1="1433.46" y1="483.5" x2="1433.46" y2="496.5" stroke="#2ca02c" stroke-width="4.5"/>
<circle cx="1433.46" cy="490" r="6.3" fill="#2ca02c"/>
<circle cx="1483.54" cy="431.8" r="6.3" fill="#2ca02c"/>
<circle cx="1533.62" cy="365.7" r="6.3" fill="#2ca02c"/>
<circle cx="1583.69" cy="297.8" r="6.3" fill="#2ca02c"/>
<circle cx="1633.77" cy="231.4" r="6.3" fill="#2ca02c"/>
<circle cx="1683.85" cy="182" r="6.3" fill="#2ca02c"/>
<polygon points="1483.54,484.1 1533.62,412.8 1583.69,327.7 1633.77,239.3 1683.85,172.9 1683.85,179.1 1633.77,245.5 1583.69,334.7 1533.62,421.8 1483.54,496.1" fill="#d62728" fill-opacity="0.3"/>
<polyline points="1483.54,490.1 1533.62,417.3 1583.69,331.2 1633.77,242.4 1683.85,176" fill="none" stroke="#d62728" stroke-width="4.5" stroke-dasharray="16.65 7.2"/>
<line x1="1483.54" y1="483.1" x2="1483.54" y2="497.1" stroke="#d62728" stroke-width="4.5"/>
<circle cx="1483.54" cy="490.1" r="6.3" fill="#d62728"/>
<circle cx="1533.62" cy="417.3" r="6.3" fill="#d62728"/>
<circle cx="1583.69" cy="331.2" r="6.3" fill="#d62728"/>
<circle cx="1633.77" cy="242.4" r="6.3" fill="#d62728"/>
<circle cx="1683.85" cy="176" r="6.3" fill="#d62728"/>
<polygon points="1233.15,314.3 1283.23,298.7 1333.31,284.6 1383.38,269 1433.46,253 1483.54,238.8 1533.62,223.3 1583.69,208.7 1633.77,195.9 1683.85,185.9 1683.85,192.1 1633.77,202.1 1583.69,214.9 1533.62,229.5 1483.54,245 1433.46,259.2 1383.38,275.2 1333.31,290.8 1283.23,304.9 1233.15,321.3" fill="#1f77b4" fill-opacity="0.3"/>
<polyline points="1233.15,317.8 1283.23,301.8 1333.31,287.7 1383.38,272.1 1433.46,256.1 1483.54,241.9 1533.62,226.4 1583.69,211.8 1633.77,199 1683.85,189" fill="none" stroke="#1f77b4" stroke-width="4.5" stroke-dasharray="4.5 7.42"/>
<path d="M1228.55 313.2l9.2 9.2M1228.55 322.4l9.2 -9.2 M1278.63 297.2l9.2 9.2M1278.63 306.4l9.2 -9.2 M1328.71 283.1l9.2 9.2M1328.71 292.3l9.2 -9.2 M1378.78 267.5l9.2 9.2M1378.78 276.7l9.2 -9.2 M1428.86 251.5l9.2 9.2M1428.86 260.7l9.2 -9.2 M1478.94 237.3l9.2 9.2M1478.94 246.5l9.2 -9.2 M1529.02 221.8l9.2 9.2M1529.02 231l9.2 -9.2 M1579.09 207.2l9.2 9.2M1579.09 216.4l9.2 -9.2 M1629.17 194.4l9.2 9.2M1629.17 203.6l9.2 -9.2 M1679.25 184.4l9.2 9.2M1679.25 193.6l9.2 -9.2" stroke="#1f77b4" stroke-width="3.6" fill="none"/>
<polygon points="1233.15,430.9 1283.23,401.4 1333.31,370.3 1383.38,339.2 1433.46,308.4 1483.54,279.5 1533.62,249.1 1583.69,221.9 1633.77,198.2 1683.85,179.7 1683.85,185.9 1633.77,204.4 1583.69,228.1 1533.62,255.3 1483.54,285.7 1433.46,314.6 1383.38,346.2 1333.31,378.3 1283.23,410.4 1233.15,440.9" fill="#ff7f0e" fill-opacity="0.3"/>
<polyline points="1233.15,435.9 1283.23,405.9 1333.31,374.3 1383.38,342.7 1433.46,311.5 1483.54,282.6 1533.62,252.2 1583.69,225 1633.77,201.3 1683.85,182.8" fill="none" stroke="#ff7f0e" stroke-width="4.5" stroke-dasharray="4.5 7.42"/>
<line x1="1233.15" y1="429.4" x2="1233.15" y2="442.4" stroke="#ff7f0e" stroke-width="4.5"/>
<path d="M1228.55 431.3l9.2 9.2M1228.55 440.5l9.2 -9.2 M1278.63 401.3l9.2 9.2M1278.63 410.5l9.2 -9.2 M1328.71 369.7l9.2 9.2M1328.71 378.9l9.2 -9.2 M1378.78 338.1l9.2 9.2M1378.78 347.3l9.2 -9.2 M1428.86 306.9l9.2 9.2M1428.86 316.1l9.2 -9.2 M1478.94 278l9.2 9.2M1478.94 287.2l9.2 -9.2 M1529.02 247.6l9.2 9.2M1529.02 256.8l9.2 -9.2 M1579.09 220.4l9.2 9.2M1579.09 229.6l9.2 -9.2 M1629.17 196.7l9.2 9.2M1629.17 205.9l9.2 -9.2 M1679.25 178.2l9.2 9.2M1679.25 187.4l9.2 -9.2" stroke="#ff7f0e" stroke-width="3.6" fill="none"/>
<polygon points="1233.15,447.2 1283.23,415.8 1333.31,381.2 1383.38,350.8 1433.46,316.9 1483.54,286.9 1533.62,253.5 1583.69,222.4 1633.77,193.9 1683.85,173.6 1683.85,179.8 1633.77,200.1 1583.69,228.6 1533.62,259.7 1483.54,293.1 1433.46,323.1 1383.38,357.8 1333.31,390.2 1283.23,426.8 1233.15,461.2" fill="#2ca02c" fill-opacity="0.3"/>
<polyline points="1233.15,454.2 1283.23,421.3 1333.31,385.7 1383.38,354.3 1433.46,320 1483.54,290 1533.62,256.6 1583.69,225.5 1633.77,197 1683.85,176.7" fill="none" stroke="#2ca02c" stroke-width="4.5" stroke-dasharray="4.5 7.42"/>
<line x1="1233.15" y1="446.7" x2="1233.15" y2="461.7" stroke="#2ca02c" stroke-width="4.5"/>
<path d="M1228.55 449.6l9.2 9.2M1228.55 458.8l9.2 -9.2 M1278.63 416.7l9.2 9.2M1278.63 425.9l9.2 -9.2 M1328.71 381.1l9.2 9.2M1328.71 390.3l9.2 -9.2 M1378.78 349.7l9.2 9.2M1378.78 358.9l9.2 -9.2 M1428.86 315.4l9.2 9.2M1428.86 324.6l9.2 -9.2 M1478.94 285.4l9.2 9.2M1478.94 294.6l9.2 -9.2 M1529.02 252l9.2 9.2M1529.02 261.2l9.2 -9.2 M1579.09 220.9l9.2 9.2M1579.09 230.1l9.2 -9.2 M1629.17 192.4l9.2 9.2M1629.17 201.6l9.2 -9.2 M1679.25 172.1l9.2 9.2M1679.25 181.3l9.2 -9.2" stroke="#2ca02c" stroke-width="3.6" fill="none"/>
<polygon points="1333.31,444.3 1383.38,409.9 1433.46,362 1483.54,319.9 1533.62,273.7 1583.69,232.1 1633.77,193.7 1683.85,167.4 1683.85,173.6 1633.77,199.9 1583.69,238.3 1533.62,279.9 1483.54,326.9 1433.46,371 1383.38,423.9 1333.31,461.3" fill="#d62728" fill-opacity="0.3"/>
<polyline points="1333.31,452.8 1383.38,416.9 1433.46,366.5 1483.54,323.4 1533.62,276.8 1583.69,235.2 1633.77,196.8 1683.85,170.5" fill="none" stroke="#d62728" stroke-width="4.5" stroke-dasharray="4.5 7.42"/>
<line x1="1333.31" y1="443.8" x2="1333.31" y2="461.8" stroke="#d62728" stroke-width="4.5"/>
<line x1="1383.38" y1="410.4" x2="1383.38" y2="423.4" stroke="#d62728" stroke-width="4.5"/>
<path d="M1328.71 448.2l9.2 9.2M1328.71 457.4l9.2 -9.2 M1378.78 412.3l9.2 9.2M1378.78 421.5l9.2 -9.2 M1428.86 361.9l9.2 9.2M1428.86 371.1l9.2 -9.2 M1478.94 318.8l9.2 9.2M1478.94 328l9.2 -9.2 M1529.02 272.2l9.2 9.2M1529.02 281.4l9.2 -9.2 M1579.09 230.6l9.2 9.2M1579.09 239.8l9.2 -9.2 M1629.17 192.2l9.2 9.2M1629.17 201.4l9.2 -9.2 M1679.25 165.9l9.2 9.2M1679.25 175.1l9.2 -9.2" stroke="#d62728" stroke-width="3.6" fill="none"/>
</g>
<path d="M1211.31 588.6v6.3M1222.84 588.6v6.3M1300.99 588.6v6.3M1340.67 588.6v6.3M1368.82 588.6v6.3M1390.66 588.6v6.3M1408.51 588.6v6.3M1423.59 588.6v6.3M1436.66 588.6v6.3M1448.19 588.6v6.3M1526.34 588.6v6.3M1566.02 588.6v6.3M1594.17 588.6v6.3M1616.01 588.6v6.3M1633.86 588.6v6.3M1648.94 588.6v6.3M1662.01 588.6v6.3M1673.54 588.6v6.3" stroke="#000" stroke-width="2" fill="none"/>
<path d="M1233.15 588.6v10.7M1458.5 588.6v10.7M1683.85 588.6v10.7M1211.12 232.72h-10.9M1211.12 372.72h-10.9M1211.12 512.72h-10.9" stroke="#000" stroke-width="2.7" fill="none"/>
<rect x="1211.12" y="142.55" width="512.74" height="446.05" fill="none" stroke="#000" stroke-width="2.6"/>
<text x="1199.45" y="634.2" font-size="35" textLength="33.6" lengthAdjust="spacingAndGlyphs">10</text>
<text x="1233.65" y="622.9" font-size="24" textLength="21" lengthAdjust="spacingAndGlyphs">−</text>
<text x="1253.75" y="621.2" font-size="24.5" textLength="13.6" lengthAdjust="spacingAndGlyphs">3</text>
<text x="1424.8" y="634.2" font-size="35" textLength="33.6" lengthAdjust="spacingAndGlyphs">10</text>
<text x="1459" y="622.9" font-size="24" textLength="21" lengthAdjust="spacingAndGlyphs">−</text>
<text x="1479.1" y="621.2" font-size="24.5" textLength="13.6" lengthAdjust="spacingAndGlyphs">2</text>
<text x="1650.15" y="634.2" font-size="35" textLength="33.6" lengthAdjust="spacingAndGlyphs">10</text>
<text x="1684.35" y="622.9" font-size="24" textLength="21" lengthAdjust="spacingAndGlyphs">−</text>
<text x="1704.45" y="621.2" font-size="24.5" textLength="13.6" lengthAdjust="spacingAndGlyphs">1</text>
<text x="1451.99" y="677" font-size="36" font-style="italic">p</text>
<text x="1468.49" y="681.8" font-size="24" textLength="14.4" lengthAdjust="spacingAndGlyphs">x</text>
<text x="1468.5" y="187.8" font-size="36">(</text>
<text x="1481.1" y="187.8" font-size="36" font-style="italic">c</text>
<text x="1495.9" y="187.8" font-size="36">)</text>
<g transform="translate(15.7,383.6) rotate(-90)"><text x="0" y="0" font-size="36" font-style="italic">p</text><text x="19.2" y="4" font-size="25">L</text></g>
<rect x="124.1" y="1.3" width="511.8" height="132" rx="4" ry="4" fill="#fff" stroke="#d2d2d2" stroke-width="3"/>
<g font-family='"DejaVu Serif", "Liberation Serif", serif' font-size="16">
<line x1="130.9" y1="14.9" x2="165.1" y2="14.9" stroke="#1f77b4" stroke-width="4.5" stroke-dasharray="16.65 7.2"/>
<line x1="148" y1="6.2" x2="148" y2="23.6" stroke="#1f77b4" stroke-width="5"/>
<circle cx="148" cy="14.9" r="6" fill="#1f77b4"/>
<text x="179.4" y="21" textLength="84.4" lengthAdjust="spacingAndGlyphs">[[39,3,3]]</text>
<text x="272.8" y="21" textLength="43" lengthAdjust="spacingAndGlyphs">LCS</text>
<line x1="130.9" y1="40.25" x2="165.1" y2="40.25" stroke="#1f77b4" stroke-width="4.5" stroke-dasharray="4.5 7.42"/>
<line x1="148" y1="31.55" x2="148" y2="48.95" stroke="#1f77b4" stroke-width="5"/>
<path d="M143.4 35.65l9.2 9.2M143.4 44.85l9.2 -9.2" stroke="#1f77b4" stroke-width="3.6" fill="none"/>
<text x="179.4" y="46.35" textLength="84.4" lengthAdjust="spacingAndGlyphs">[[39,3,3]]</text>
<text x="272.8" y="46.35" textLength="71.3" lengthAdjust="spacingAndGlyphs">surface</text>
<line x1="130.9" y1="65.6" x2="165.1" y2="65.6" stroke="#ff7f0e" stroke-width="4.5" stroke-dasharray="16.65 7.2"/>
<line x1="148" y1="56.9" x2="148" y2="74.3" stroke="#ff7f0e" stroke-width="5"/>
<circle cx="148" cy="65.6" r="6" fill="#ff7f0e"/>
<text x="179.4" y="71.7" textLength="95.9" lengthAdjust="spacingAndGlyphs">[[205,5,5]]</text>
<text x="284.3" y="71.7" textLength="43" lengthAdjust="spacingAndGlyphs">LCS</text>
<line x1="130.9" y1="90.95" x2="165.1" y2="90.95" stroke="#ff7f0e" stroke-width="4.5" stroke-dasharray="4.5 7.42"/>
<line x1="148" y1="82.25" x2="148" y2="99.65" stroke="#ff7f0e" stroke-width="5"/>
<path d="M143.4 86.35l9.2 9.2M143.4 95.55l9.2 -9.2" stroke="#ff7f0e" stroke-width="3.6" fill="none"/>
<text x="179.4" y="97.05" textLength="95.9" lengthAdjust="spacingAndGlyphs">[[205,5,5]]</text>
<text x="284.3" y="97.05" textLength="71.3" lengthAdjust="spacingAndGlyphs">surface</text>
<line x1="130.9" y1="116.3" x2="165.1" y2="116.3" stroke="#2ca02c" stroke-width="4.5" stroke-dasharray="16.65 7.2"/>
<line x1="148" y1="107.6" x2="148" y2="125" stroke="#2ca02c" stroke-width="5"/>
<circle cx="148" cy="116.3" r="6" fill="#2ca02c"/>
<text x="179.4" y="122.4" textLength="95.9" lengthAdjust="spacingAndGlyphs">[[595,7,7]]</text>
<text x="284.3" y="122.4" textLength="43" lengthAdjust="spacingAndGlyphs">LCS</text>
<line x1="370.6" y1="14.9" x2="404.8" y2="14.9" stroke="#2ca02c" stroke-width="4.5" stroke-dasharray="4.5 7.42"/>
<line x1="387.7" y1="6.2" x2="387.7" y2="23.6" stroke="#2ca02c" stroke-width="5"/>
<path d="M383.1 10.3l9.2 9.2M383.1 19.5l9.2 -9.2" stroke="#2ca02c" stroke-width="3.6" fill="none"/>
<text x="419.1" y="21" textLength="95.9" lengthAdjust="spacingAndGlyphs">[[595,7,7]]</text>
<text x="524" y="21" textLength="71.3" lengthAdjust="spacingAndGlyphs">surface</text>
<line x1="370.6" y1="40.25" x2="404.8" y2="40.25" stroke="#d62728" stroke-width="4.5" stroke-dasharray="16.65 7.2"/>
<line x1="387.7" y1="31.55" x2="387.7" y2="48.95" stroke="#d62728" stroke-width="5"/>
<circle cx="387.7" cy="40.25" r="6" fill="#d62728"/>
<text x="419.1" y="46.35" textLength="107.4" lengthAdjust="spacingAndGlyphs">[[1305,9,9]]</text>
<text x="535.5" y="46.35" textLength="43" lengthAdjust="spacingAndGlyphs">LCS</text>
<line x1="370.6" y1="65.6" x2="404.8" y2="65.6" stroke="#d62728" stroke-width="4.5" stroke-dasharray="4.5 7.42"/>
<line x1="387.7" y1="56.9" x2="387.7" y2="74.3" stroke="#d62728" stroke-width="5"/>
<path d="M383.1 61l9.2 9.2M383.1 70.2l9.2 -9.2" stroke="#d62728" stroke-width="3.6" fill="none"/>
<text x="419.1" y="71.7" textLength="107.4" lengthAdjust="spacingAndGlyphs">[[1305,9,9]]</text>
<text x="535.5" y="71.7" textLength="71.3" lengthAdjust="spacingAndGlyphs">surface</text>
<line x1="370.6" y1="90.95" x2="404.8" y2="90.95" stroke="#9467bd" stroke-width="4.5" stroke-dasharray="16.65 7.2"/>
<line x1="387.7" y1="82.25" x2="387.7" y2="99.65" stroke="#9467bd" stroke-width="5"/>
<circle cx="387.7" cy="90.95" r="6" fill="#9467bd"/>
<text x="419.1" y="97.05" textLength="130.4" lengthAdjust="spacingAndGlyphs">[[2431,11,11]]</text>
<text x="558.5" y="97.05" textLength="43" lengthAdjust="spacingAndGlyphs">LCS</text>
<line x1="370.6" y1="116.3" x2="404.8" y2="116.3" stroke="#9467bd" stroke-width="4.5" stroke-dasharray="4.5 7.42"/>
<line x1="387.7" y1="107.6" x2="387.7" y2="125" stroke="#9467bd" stroke-width="5"/>
<path d="M383.1 111.7l9.2 9.2M383.1 120.9l9.2 -9.2" stroke="#9467bd" stroke-width="3.6" fill="none"/>
<text x="419.1" y="122.4" textLength="130.4" lengthAdjust="spacingAndGlyphs">[[2431,11,11]]</text>
<text x="558.5" y="122.4" textLength="71.3" lengthAdjust="spacingAndGlyphs">surface</text>
</g>
<rect x="667.7" y="27" width="511.9" height="106.3" rx="4" ry="4" fill="#fff" stroke="#d2d2d2" stroke-width="3"/>
<g font-family='"DejaVu Serif", "Liberation Serif", serif' font-size="16">
<line x1="674.2" y1="40.25" x2="708.4" y2="40.25" stroke="#1f77b4" stroke-width="4.5" stroke-dasharray="16.65 7.2"/>
<line x1="691.3" y1="31.55" x2="691.3" y2="48.95" stroke="#1f77b4" stroke-width="5"/>
<circle cx="691.3" cy="40.25" r="6" fill="#1f77b4"/>
<text x="722.7" y="46.35" textLength="84.4" lengthAdjust="spacingAndGlyphs">[[15,3,3]]</text>
<text x="816.1" y="46.35" textLength="43" lengthAdjust="spacingAndGlyphs">LCS</text>
<line x1="674.2" y1="65.6" x2="708.4" y2="65.6" stroke="#1f77b4" stroke-width="4.5" stroke-dasharray="4.5 7.42"/>
<line x1="691.3" y1="56.9" x2="691.3" y2="74.3" stroke="#1f77b4" stroke-width="5"/>
<path d="M686.7 61l9.2 9.2M686.7 70.2l9.2 -9.2" stroke="#1f77b4" stroke-width="3.6" fill="none"/>
<text x="722.7" y="71.7" textLength="84.4" lengthAdjust="spacingAndGlyphs">[[39,3,3]]</text>
<text x="816.1" y="71.7" textLength="71.3" lengthAdjust="spacingAndGlyphs">surface</text>
<line x1="674.2" y1="90.95" x2="708.4" y2="90.95" stroke="#ff7f0e" stroke-width="4.5" stroke-dasharray="16.65 7.2"/>
<line x1="691.3" y1="82.25" x2="691.3" y2="99.65" stroke="#ff7f0e" stroke-width="5"/>
<circle cx="691.3" cy="90.95" r="6" fill="#ff7f0e"/>
<text x="722.7" y="97.05" textLength="84.4" lengthAdjust="spacingAndGlyphs">[[65,5,5]]</text>
<text x="816.1" y="97.05" textLength="43" lengthAdjust="spacingAndGlyphs">LCS</text>
<line x1="674.2" y1="116.3" x2="708.4" y2="116.3" stroke="#ff7f0e" stroke-width="4.5" stroke-dasharray="4.5 7.42"/>
<line x1="691.3" y1="107.6" x2="691.3" y2="125" stroke="#ff7f0e" stroke-width="5"/>
<path d="M686.7 111.7l9.2 9.2M686.7 120.9l9.2 -9.2" stroke="#ff7f0e" stroke-width="3.6" fill="none"/>
<text x="722.7" y="122.4" textLength="95.9" lengthAdjust="spacingAndGlyphs">[[205,5,5]]</text>
<text x="827.6" y="122.4" textLength="71.3" lengthAdjust="spacingAndGlyphs">surface</text>
<line x1="937" y1="40.25" x2="971.2" y2="40.25" stroke="#2ca02c" stroke-width="4.5" stroke-dasharray="16.65 7.2"/>
<line x1="954.1" y1="31.55" x2="954.1" y2="48.95" stroke="#2ca02c" stroke-width="5"/>
<circle cx="954.1" cy="40.25" r="6" fill="#2ca02c"/>
<text x="985.5" y="46.35" textLength="95.9" lengthAdjust="spacingAndGlyphs">[[175,7,7]]</text>
<text x="1090.4" y="46.35" textLength="43" lengthAdjust="spacingAndGlyphs">LCS</text>
<line x1="937" y1="65.6" x2="971.2" y2="65.6" stroke="#2ca02c" stroke-width="4.5" stroke-dasharray="4.5 7.42"/>
<line x1="954.1" y1="56.9" x2="954.1" y2="74.3" stroke="#2ca02c" stroke-width="5"/>
<path d="M949.5 61l9.2 9.2M949.5 70.2l9.2 -9.2" stroke="#2ca02c" stroke-width="3.6" fill="none"/>
<text x="985.5" y="71.7" textLength="95.9" lengthAdjust="spacingAndGlyphs">[[595,7,7]]</text>
<text x="1090.4" y="71.7" textLength="71.3" lengthAdjust="spacingAndGlyphs">surface</text>
<line x1="937" y1="90.95" x2="971.2" y2="90.95" stroke="#d62728" stroke-width="4.5" stroke-dasharray="16.65 7.2"/>
<line x1="954.1" y1="82.25" x2="954.1" y2="99.65" stroke="#d62728" stroke-width="5"/>
<circle cx="954.1" cy="90.95" r="6" fill="#d62728"/>
<text x="985.5" y="97.05" textLength="95.9" lengthAdjust="spacingAndGlyphs">[[369,9,9]]</text>
<text x="1090.4" y="97.05" textLength="43" lengthAdjust="spacingAndGlyphs">LCS</text>
<line x1="937" y1="116.3" x2="971.2" y2="116.3" stroke="#d62728" stroke-width="4.5" stroke-dasharray="4.5 7.42"/>
<line x1="954.1" y1="107.6" x2="954.1" y2="125" stroke="#d62728" stroke-width="5"/>
<path d="M949.5 111.7l9.2 9.2M949.5 120.9l9.2 -9.2" stroke="#d62728" stroke-width="3.6" fill="none"/>
<text x="985.5" y="122.4" textLength="107.4" lengthAdjust="spacingAndGlyphs">[[1305,9,9]]</text>
<text x="1101.9" y="122.4" textLength="71.3" lengthAdjust="spacingAndGlyphs">surface</text>
</g>
<rect x="1211.3" y="27" width="511.4" height="106.3" rx="4" ry="4" fill="#fff" stroke="#d2d2d2" stroke-width="3"/>
<g font-family='"DejaVu Serif", "Liberation Serif", serif' font-size="16">
<line x1="1218" y1="40.25" x2="1252.2" y2="40.25" stroke="#1f77b4" stroke-width="4.5" stroke-dasharray="16.65 7.2"/>
<line x1="1235.1" y1="31.55" x2="1235.1" y2="48.95" stroke="#1f77b4" stroke-width="5"/>
<circle cx="1235.1" cy="40.25" r="6" fill="#1f77b4"/>
<text x="1266.5" y="46.35" textLength="84.4" lengthAdjust="spacingAndGlyphs">[[15,3,3]]</text>
<text x="1359.9" y="46.35" textLength="43" lengthAdjust="spacingAndGlyphs">LCS</text>
<line x1="1218" y1="65.6" x2="1252.2" y2="65.6" stroke="#1f77b4" stroke-width="4.5" stroke-dasharray="4.5 7.42"/>
<line x1="1235.1" y1="56.9" x2="1235.1" y2="74.3" stroke="#1f77b4" stroke-width="5"/>
<path d="M1230.5 61l9.2 9.2M1230.5 70.2l9.2 -9.2" stroke="#1f77b4" stroke-width="3.6" fill="none"/>
<text x="1266.5" y="71.7" textLength="84.4" lengthAdjust="spacingAndGlyphs">[[15,3,2]]</text>
<text x="1359.9" y="71.7" textLength="71.3" lengthAdjust="spacingAndGlyphs">surface</text>
<line x1="1218" y1="90.95" x2="1252.2" y2="90.95" stroke="#ff7f0e" stroke-width="4.5" stroke-dasharray="16.65 7.2"/>
<line x1="1235.1" y1="82.25" x2="1235.1" y2="99.65" stroke="#ff7f0e" stroke-width="5"/>
<circle cx="1235.1" cy="90.95" r="6" fill="#ff7f0e"/>
<text x="1266.5" y="97.05" textLength="84.4" lengthAdjust="spacingAndGlyphs">[[65,5,5]]</text>
<text x="1359.9" y="97.05" textLength="43" lengthAdjust="spacingAndGlyphs">LCS</text>
<line x1="1218" y1="116.3" x2="1252.2" y2="116.3" stroke="#ff7f0e" stroke-width="4.5" stroke-dasharray="4.5 7.42"/>
<line x1="1235.1" y1="107.6" x2="1235.1" y2="125" stroke="#ff7f0e" stroke-width="5"/>
<path d="M1230.5 111.7l9.2 9.2M1230.5 120.9l9.2 -9.2" stroke="#ff7f0e" stroke-width="3.6" fill="none"/>
<text x="1266.5" y="122.4" textLength="84.4" lengthAdjust="spacingAndGlyphs">[[65,5,3]]</text>
<text x="1359.9" y="122.4" textLength="71.3" lengthAdjust="spacingAndGlyphs">surface</text>
<line x1="1491.7" y1="40.25" x2="1525.9" y2="40.25" stroke="#2ca02c" stroke-width="4.5" stroke-dasharray="16.65 7.2"/>
<line x1="1508.8" y1="31.55" x2="1508.8" y2="48.95" stroke="#2ca02c" stroke-width="5"/>
<circle cx="1508.8" cy="40.25" r="6" fill="#2ca02c"/>
<text x="1540.2" y="46.35" textLength="95.9" lengthAdjust="spacingAndGlyphs">[[175,7,7]]</text>
<text x="1645.1" y="46.35" textLength="43" lengthAdjust="spacingAndGlyphs">LCS</text>
<line x1="1491.7" y1="65.6" x2="1525.9" y2="65.6" stroke="#2ca02c" stroke-width="4.5" stroke-dasharray="4.5 7.42"/>
<line x1="1508.8" y1="56.9" x2="1508.8" y2="74.3" stroke="#2ca02c" stroke-width="5"/>
<path d="M1504.2 61l9.2 9.2M1504.2 70.2l9.2 -9.2" stroke="#2ca02c" stroke-width="3.6" fill="none"/>
<text x="1540.2" y="71.7" textLength="95.9" lengthAdjust="spacingAndGlyphs">[[175,7,4]]</text>
<text x="1645.1" y="71.7" textLength="71.3" lengthAdjust="spacingAndGlyphs">surface</text>
<line x1="1491.7" y1="90.95" x2="1525.9" y2="90.95" stroke="#d62728" stroke-width="4.5" stroke-dasharray="16.65 7.2"/>
<line x1="1508.8" y1="82.25" x2="1508.8" y2="99.65" stroke="#d62728" stroke-width="5"/>
<circle cx="1508.8" cy="90.95" r="6" fill="#d62728"/>
<text x="1540.2" y="97.05" textLength="95.9" lengthAdjust="spacingAndGlyphs">[[369,9,9]]</text>
<text x="1645.1" y="97.05" textLength="43" lengthAdjust="spacingAndGlyphs">LCS</text>
<line x1="1491.7" y1="116.3" x2="1525.9" y2="116.3" stroke="#d62728" stroke-width="4.5" stroke-dasharray="4.5 7.42"/>
<line x1="1508.8" y1="107.6" x2="1508.8" y2="125" stroke="#d62728" stroke-width="5"/>
<path d="M1504.2 111.7l9.2 9.2M1504.2 120.9l9.2 -9.2" stroke="#d62728" stroke-width="3.6" fill="none"/>
<text x="1540.2" y="122.4" textLength="95.9" lengthAdjust="spacingAndGlyphs">[[369,9,5]]</text>
<text x="1645.1" y="122.4" textLength="71.3" lengthAdjust="spacingAndGlyphs">surface</text>
</g>
</svg>
</body></html>
